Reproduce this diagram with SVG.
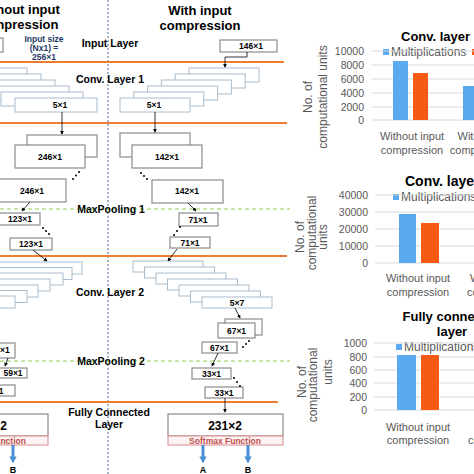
<svg xmlns="http://www.w3.org/2000/svg" width="474" height="474" viewBox="0 0 474 474">
<defs>
<style>
.t{font-family:"Liberation Sans",Arial,sans-serif;font-weight:bold;fill:#000;text-anchor:middle}
.h{font-size:13px}
.lab{font-size:10.5px}
.bx{font-size:8.5px}
.fm{fill:#fff;stroke:#808080;stroke-width:1.1}
.flt{fill:#fff;stroke:#a9bccb;stroke-width:1}
.or{stroke:#ed7d31;stroke-width:2;fill:none}
.gr{stroke:#92d050;stroke-width:1;stroke-dasharray:4 3;fill:none}
.ar{stroke:#000;stroke-width:0.8;fill:none;marker-end:url(#ah)}
.dot{fill:#000}
.c{font-family:"Liberation Sans",Arial,sans-serif;fill:#595959}
.ct{font-family:"Liberation Sans",Arial,sans-serif;font-weight:bold;fill:#000;font-size:13px}
.grid{stroke:#d9d9d9;stroke-width:1}
.blue{fill:#5aa8ee}
.orng{fill:#f65b14}
</style>
<marker id="ah" viewBox="0 0 6 6" refX="5" refY="3" markerWidth="5" markerHeight="5" orient="auto">
<path d="M0,0 L6,3 L0,6 z" fill="#000"/>
</marker>
<marker id="bh" viewBox="0 0 6 6" refX="3" refY="3" markerWidth="2.4" markerHeight="2.4" orient="auto">
<path d="M0,0 L6,3 L0,6 z" fill="#4a8fd6"/>
</marker>
</defs>
<rect width="474" height="474" fill="#fff"/>

<!-- separators -->
<g id="separators">
<line x1="108" y1="0" x2="108" y2="474" stroke="#4f6d8f" stroke-width="1" stroke-dasharray="2 2"/>
<line class="or" x1="0" y1="62" x2="284" y2="62"/>
<line class="or" x1="0" y1="123" x2="287" y2="123"/>
<line class="or" x1="0" y1="256" x2="287" y2="256"/>
<line class="or" x1="0" y1="402" x2="278" y2="402"/>
<line class="gr" x1="0" y1="209" x2="290" y2="209"/>
<line class="gr" x1="0" y1="361" x2="290" y2="361"/>
</g>

<!-- titles and layer labels -->
<g id="titles">
<text class="t h" x="18" y="14">Without input</text>
<text class="t h" x="18" y="29">compression</text>
<text class="t h" x="200" y="15">With input</text>
<text class="t h" x="200" y="30">compression</text>
<text class="t lab" x="110" y="47">Input Layer</text>
<text class="t lab" x="110" y="83">Conv. Layer 1</text>
<text class="t lab" x="111" y="213">MaxPooling 1</text>
<text class="t lab" x="110" y="296">Conv. Layer 2</text>
<text class="t lab" x="111" y="365">MaxPooling 2</text>
<text class="t lab" x="109" y="416">Fully Connected</text>
<text class="t lab" x="109" y="428">Layer</text>
</g>

<!-- left column (without compression) -->
<g id="left-input">
<rect class="fm" x="-50" y="38" width="53" height="14"/>
<text class="t bx" x="44" y="42" style="fill:#1f3864">Input size</text>
<text class="t bx" x="44" y="51" style="fill:#1f3864">(Nx1) =</text>
<text class="t bx" x="44" y="60" style="fill:#1f3864">256×1</text>
</g>
<g id="left-conv1">
<rect class="flt" x="-55" y="68" width="82" height="14"/>
<rect class="flt" x="-41" y="74" width="82" height="14"/>
<rect class="flt" x="-27" y="80" width="82" height="14"/>
<rect class="flt" x="-13" y="86" width="82" height="14"/>
<rect class="flt" x="1" y="92" width="82" height="14"/>
<rect class="flt" x="15" y="98" width="82" height="14"/>
<text class="t bx" x="60" y="108">5×1</text>
</g>
<g id="left-fm1">
<rect class="fm" x="27" y="135" width="70" height="22"/>
<rect class="fm" x="15" y="145" width="70" height="23"/>
<text class="t bx" x="50" y="160">246×1</text>
</g>
<g id="left-fm1b">
<rect class="fm" x="-10" y="179" width="76" height="23"/>
<text class="t bx" x="32" y="194">246×1</text>
</g>
<g id="left-pool1a">
<rect class="fm" x="-5" y="213" width="45" height="12"/>
<text class="t bx" x="20" y="222">123×1</text>
</g>
<g id="left-pool1b">
<rect class="fm" x="10" y="238" width="42" height="12"/>
<text class="t bx" x="31" y="247">123×1</text>
</g>
<g id="left-conv2">
<rect class="flt" x="-8" y="262" width="90" height="12"/>
<rect class="flt" x="-18" y="267.5" width="90" height="12"/>
<rect class="flt" x="-27" y="273" width="90" height="12"/>
<rect class="flt" x="-40" y="279" width="90" height="12"/>
<rect class="flt" x="-52" y="285" width="90" height="12"/>
<rect class="flt" x="-63" y="290.5" width="90" height="12"/>
<rect class="flt" x="-75" y="296" width="90" height="12"/>
</g>
<g id="left-fm2">
<rect class="fm" x="-35" y="343" width="50" height="15"/>
<text class="t bx" x="-2" y="353">119×1</text>
</g>
<g id="left-pool2a">
<rect class="fm" x="-15" y="368" width="42" height="10"/>
<text class="t bx" x="13" y="376">59×1</text>
</g>
<g id="left-pool2b">
<rect class="fm" x="-25" y="385" width="40" height="11"/>
<text class="t bx" x="-6" y="393.5">59×1</text>
</g>
<g id="left-fc">
<rect class="fm" x="-68" y="414" width="116" height="22"/>
<rect x="-68" y="436" width="116" height="9" fill="#fdf3f3" stroke="#d98b8b" stroke-width="1"/>
<text class="t" x="-10" y="430" font-size="12">231×2</text>
<text class="t" x="-10" y="443.5" font-size="8.5" style="fill:#c0504d">Softmax Function</text>
<text class="t" x="13" y="473" font-size="9">B</text>
</g>

<!-- right column (with compression) -->
<g id="right-input">
<rect class="fm" x="220" y="40" width="57" height="12"/>
<text class="t bx" x="251" y="49">146×1</text>
</g>
<g id="right-conv1">
<rect class="flt" x="189" y="68" width="70" height="14"/>
<rect class="flt" x="175.2" y="74" width="70" height="14"/>
<rect class="flt" x="161.4" y="80" width="70" height="14"/>
<rect class="flt" x="147.6" y="86" width="70" height="14"/>
<rect class="flt" x="133.8" y="92" width="70" height="14"/>
<rect class="flt" x="120" y="98" width="70" height="14"/>
<text class="t bx" x="154" y="108">5×1</text>
</g>
<g id="right-fm1">
<rect class="fm" x="120" y="133" width="70" height="24"/>
<rect class="fm" x="132" y="145" width="70" height="23"/>
<text class="t bx" x="167" y="160">142×1</text>
</g>
<g id="right-fm1b">
<rect class="fm" x="152" y="180" width="71" height="23"/>
<text class="t bx" x="187" y="194">142×1</text>
</g>
<g id="right-pool1a">
<rect class="fm" x="179" y="213" width="39" height="13"/>
<text class="t bx" x="198" y="222.5">71×1</text>
</g>
<g id="right-pool1b">
<rect class="fm" x="170" y="237" width="40" height="11"/>
<text class="t bx" x="190" y="245.5">71×1</text>
</g>
<g id="right-conv2">
<rect class="flt" x="133" y="261" width="70" height="11"/>
<rect class="flt" x="144.5" y="267" width="70" height="11"/>
<rect class="flt" x="156" y="273" width="70" height="11"/>
<rect class="flt" x="167.5" y="279" width="70" height="11"/>
<rect class="flt" x="179" y="285" width="70" height="11"/>
<rect class="flt" x="190.5" y="291" width="70" height="11"/>
<rect class="flt" x="202" y="297" width="70" height="11"/>
<text class="t bx" x="237" y="305.5">5×7</text>
</g>
<g id="right-fm2">
<rect class="fm" x="225" y="319" width="37" height="16"/>
<rect class="fm" x="218" y="323" width="37" height="15"/>
<text class="t bx" x="236.5" y="333.5">67×1</text>
</g>
<g id="right-fm2b">
<rect class="fm" x="202" y="342" width="35" height="11"/>
<text class="t bx" x="219.5" y="350.5">67×1</text>
</g>
<g id="right-pool2a">
<rect class="fm" x="192" y="368" width="39" height="11"/>
<text class="t bx" x="211.5" y="376.5">33×1</text>
</g>
<g id="right-pool2b">
<rect class="fm" x="205" y="387" width="38" height="11"/>
<text class="t bx" x="224" y="395.5">33×1</text>
</g>
<g id="right-fc">
<rect class="fm" x="168" y="414" width="115" height="22"/>
<rect x="168" y="436" width="115" height="9" fill="#fdf3f3" stroke="#d98b8b" stroke-width="1"/>
<text class="t" x="225" y="430" font-size="12">231×2</text>
<text class="t" x="225" y="443.5" font-size="8.5" style="fill:#c0504d">Softmax Function</text>
<text class="t" x="203" y="473" font-size="9">A</text>
<text class="t" x="248" y="473" font-size="9">B</text>
</g>

<!-- connectors -->
<g id="connectors">
<path class="ar" d="M62,112 V134"/>
<path class="ar" d="M155,112 V132"/>
<path class="ar" d="M247,52 V57 H225 V67"/>
<path class="ar" d="M30,202 L22,211"/>
<path class="ar" d="M33,250 L47,261"/>
<path class="ar" d="M188,203 L196,211"/>
<path class="ar" d="M177,249 L168,261"/>
<path class="ar" d="M235,308 L240,318"/>
<path class="ar" d="M218,353 L212,366"/>
<path class="ar" d="M225,398 V412"/>
<path class="ar" d="M8,358 L5,366"/>
<line x1="13" y1="445" x2="13" y2="460" stroke="#4a8fd6" stroke-width="3" marker-end="url(#bh)"/>
<line x1="203" y1="445" x2="203" y2="460" stroke="#4a8fd6" stroke-width="3" marker-end="url(#bh)"/>
<line x1="248" y1="445" x2="248" y2="460" stroke="#4a8fd6" stroke-width="3" marker-end="url(#bh)"/>
<circle class="dot" cx="73" cy="179" r="1"/><circle class="dot" cx="76" cy="175.5" r="1"/><circle class="dot" cx="79" cy="172" r="1"/>
<circle class="dot" cx="141" cy="173" r="1"/><circle class="dot" cx="144" cy="176" r="1"/><circle class="dot" cx="147" cy="179" r="1"/>
<circle class="dot" cx="43" cy="228" r="1"/><circle class="dot" cx="46" cy="231" r="1"/><circle class="dot" cx="49" cy="234" r="1"/>
<circle class="dot" cx="180" cy="227" r="1"/><circle class="dot" cx="177" cy="231" r="1"/><circle class="dot" cx="174" cy="235" r="1"/>
<circle class="dot" cx="243" cy="347" r="1"/><circle class="dot" cx="246" cy="344" r="1"/><circle class="dot" cx="249" cy="341" r="1"/>
<circle class="dot" cx="234" cy="378" r="1"/><circle class="dot" cx="237" cy="382" r="1"/><circle class="dot" cx="240" cy="386" r="1"/>
</g>

<!-- chart 1 -->
<g id="chart-conv1">
<text class="ct" x="401" y="41">Conv. layer 1</text>
<rect class="blue" x="383" y="49" width="6" height="6"/>
<text class="c" x="391" y="56" font-size="12">Multiplications</text>
<rect class="orng" x="472" y="49" width="6" height="6"/>
<g class="grid">
<line x1="372" y1="51" x2="474" y2="51"/><line x1="372" y1="65" x2="474" y2="65"/><line x1="372" y1="79" x2="474" y2="79"/>
<line x1="372" y1="93" x2="474" y2="93"/><line x1="372" y1="107" x2="474" y2="107"/><line x1="372" y1="120" x2="474" y2="120"/>
</g>
<g class="c" font-size="10.5" text-anchor="end">
<text x="364" y="55">10000</text><text x="364" y="69">8000</text><text x="364" y="83">6000</text>
<text x="364" y="97">4000</text><text x="364" y="111">2000</text><text x="364" y="124">0</text>
</g>
<rect class="blue" x="393" y="61" width="15" height="59"/>
<rect class="orng" x="413" y="73" width="15" height="47"/>
<rect class="blue" x="463" y="86" width="15" height="34"/>
<g class="c" font-size="11" text-anchor="middle">
<text x="412" y="140">Without input</text><text x="412" y="154">compression</text>
<text x="482" y="140">With input</text><text x="481" y="154">compression</text>
</g>
<text class="c" font-size="12" text-anchor="middle" transform="translate(312,97) rotate(-90)">No. of</text>
<text class="c" font-size="12" text-anchor="middle" transform="translate(327,97) rotate(-90)">computational units</text>
</g>

<!-- chart 2 -->
<g id="chart-conv2">
<text class="ct" x="405" y="186" style="font-size:14px">Conv. layer 2</text>
<rect class="blue" x="393" y="194" width="6" height="6"/>
<text class="c" x="401" y="201" font-size="12">Multiplications</text>
<g class="grid">
<line x1="375" y1="195" x2="474" y2="195"/><line x1="375" y1="212" x2="474" y2="212"/><line x1="375" y1="229" x2="474" y2="229"/>
<line x1="375" y1="246" x2="474" y2="246"/><line x1="375" y1="263" x2="474" y2="263"/>
</g>
<g class="c" font-size="10.5" text-anchor="end">
<text x="368" y="199">40000</text><text x="368" y="216">30000</text><text x="368" y="233">20000</text>
<text x="368" y="250">10000</text><text x="368" y="267">0</text>
</g>
<rect class="blue" x="399" y="214" width="17" height="49"/>
<rect class="orng" x="421" y="223" width="18" height="40"/>
<g class="c" font-size="11" text-anchor="middle">
<text x="418" y="282">Without input</text><text x="418" y="296">compression</text>
</g>
<g class="c" font-size="11">
<text x="470" y="282">With input</text><text x="467" y="296">compression</text>
</g>
<text class="c" font-size="12" text-anchor="middle" transform="translate(304,237) rotate(-90)">No. of</text>
<text class="c" font-size="12" text-anchor="middle" transform="translate(316,233) rotate(-90)">computational</text>
<text class="c" font-size="12" text-anchor="middle" transform="translate(327,237) rotate(-90)">units</text>
</g>

<!-- chart 3 -->
<g id="chart-fc">
<text class="ct" x="452" y="321" text-anchor="middle">Fully connected</text>
<text class="ct" x="452" y="336" text-anchor="middle">layer</text>
<rect class="blue" x="396" y="344" width="6" height="6"/>
<text class="c" x="404" y="351" font-size="12">Multiplications</text>
<g class="grid">
<line x1="374" y1="343" x2="474" y2="343"/><line x1="374" y1="357" x2="474" y2="357"/><line x1="374" y1="370" x2="474" y2="370"/>
<line x1="374" y1="383" x2="474" y2="383"/><line x1="374" y1="397" x2="474" y2="397"/><line x1="374" y1="410" x2="474" y2="410"/>
</g>
<g class="c" font-size="10.5" text-anchor="end">
<text x="367" y="347">1000</text><text x="367" y="361">800</text><text x="367" y="374">600</text>
<text x="367" y="387">400</text><text x="367" y="401">200</text><text x="367" y="414">0</text>
</g>
<rect class="blue" x="397" y="355" width="19" height="55"/>
<rect class="orng" x="421" y="355" width="18" height="55"/>
<g class="c" font-size="11" text-anchor="middle">
<text x="418" y="431">Without input</text><text x="418" y="444">compression</text>
</g>
<text class="c" font-size="11" x="468" y="444">compression</text>
<text class="c" font-size="12" text-anchor="middle" transform="translate(306,382) rotate(-90)">No. of</text>
<text class="c" font-size="12" text-anchor="middle" transform="translate(317,385) rotate(-90)">computational</text>
<text class="c" font-size="12" text-anchor="middle" transform="translate(332,372) rotate(-90)">units</text>
</g>
</svg>
